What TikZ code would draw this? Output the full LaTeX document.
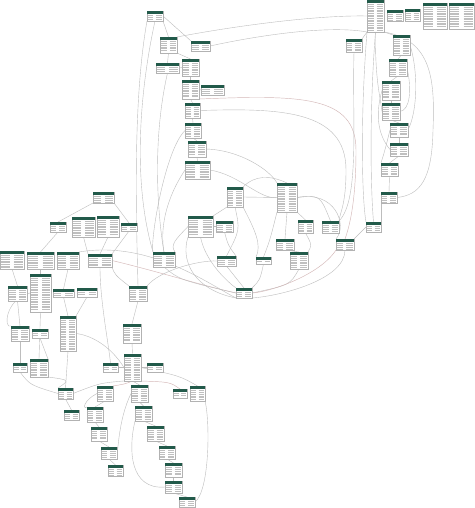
\documentclass[tikz,border=0pt]{standalone}
\definecolor{hdrg}{RGB}{34,90,74}
\pgfdeclarelayer{bgw}
\pgfdeclarelayer{bg}
\pgfsetlayers{bgw,bg,main}
\tikzset{
  tbox/.style={draw=black!30,line width=0.3pt,fill=white,inner sep=0pt,outer sep=0pt,rectangle},
  rowl/.style={draw=black!25,line width=0.35pt},
  cn/.style={draw=black!26,line width=0.4pt},
  cnr/.style={draw=red!40!black!28,line width=0.45pt},
}
\newcommand\tb[5]{%
  \node[tbox,minimum width={(#4-#2)*1pt},minimum height={(#5-#3)*1pt}] (#1) at ({(#2+#4)/2},{(#3+#5)/2}) {};
  \fill[hdrg] (#2,#3) rectangle (#4,#3+2.6);
  \pgfmathtruncatemacro\nrows{(#5-#3-4.2)/1.7}%
  \foreach \k in {1,...,\nrows}{%
    \draw[rowl] (#2+1,#3+2.9+\k*1.7) -- ({#2+0.4*(#4-#2)},#3+2.9+\k*1.7);
    \draw[rowl] ({#2+0.58*(#4-#2)},#3+2.9+\k*1.7) -- (#4-1.5,#3+2.9+\k*1.7);
  }%
}
\begin{document}
\begin{tikzpicture}[x=1pt,y=-1pt]
\useasboundingbox (0,0) rectangle (474,508);
\begin{pgfonlayer}{bgw}
\fill[white] (0,0) rectangle (474,508);
\end{pgfonlayer}
% tables
\tb{T1}{147}{11}{163}{21}
\tb{T2}{160}{37}{177}{53}
\tb{T3}{191}{41}{210}{51}
\tb{T4}{156}{63}{179}{73}
\tb{T5}{182}{59}{199}{76}
\tb{T6}{182}{80}{199}{99}
\tb{T7}{201}{85}{224}{95}
\tb{T8}{185}{103}{200}{118}
\tb{T9}{185}{123}{201}{138}
\tb{T10}{188}{141}{206}{157}
\tb{T11}{185}{161}{210}{179}
\tb{T12}{227}{187}{243}{207}
\tb{T13}{277}{183}{297}{212}
\tb{T14}{188}{216}{213}{237}
\tb{T15}{216}{221}{233}{232}
\tb{T16}{298}{220}{313}{233}
\tb{T17}{276}{239}{294}{250}
\tb{T18}{290}{252}{308}{269}
\tb{T19}{153}{252}{175}{267}
\tb{T20}{217}{256}{236}{266}
\tb{T21}{256}{257}{271}{264}
\tb{T22}{236}{288}{252}{298}
\tb{T23}{147}{363}{163}{372}
\tb{T24}{173}{389}{187}{398}
\tb{T25}{190}{386}{205}{401}
\tb{T26}{147}{426}{164}{441}
\tb{T27}{159}{446}{175}{459}
\tb{T28}{165}{463}{182}{477}
\tb{T29}{165}{481}{182}{493}
\tb{T30}{179}{497}{195}{507}
\tb{T31}{0}{251}{24}{269}
\tb{T32}{27}{252}{54}{269}
\tb{T33}{57}{252}{79}{269}
\tb{T34}{88}{254}{112}{267}
\tb{T35}{30}{274}{51}{312}
\tb{T36}{8}{286}{27}{301}
\tb{T37}{53}{289}{74}{297}
\tb{T38}{77}{288}{97}{297}
\tb{T39}{129}{286}{147}{301}
\tb{T40}{60}{316}{76}{351}
\tb{T41}{11}{326}{29}{341}
\tb{T42}{32}{329}{48}{338}
\tb{T43}{123}{324}{141}{343}
\tb{T44}{13}{363}{27}{372}
\tb{T45}{30}{359}{48}{377}
\tb{T46}{103}{363}{118}{372}
\tb{T47}{124}{354}{141}{381}
\tb{T48}{58}{388}{73}{399}
\tb{T49}{97}{386}{113}{401}
\tb{T50}{131}{385}{148}{402}
\tb{T51}{64}{410}{79}{420}
\tb{T52}{87}{407}{103}{422}
\tb{T53}{135}{406}{152}{421}
\tb{T54}{91}{427}{107}{441}
\tb{T55}{101}{447}{117}{459}
\tb{T56}{108}{465}{123}{476}
\tb{T57}{93}{192}{114}{203}
\tb{T58}{50}{222}{66}{232}
\tb{T59}{72}{217}{95}{237}
\tb{T60}{97}{216}{119}{237}
\tb{T61}{121}{223}{137}{231}
\tb{T62}{367}{0}{384}{32}
\tb{T63}{387}{10}{403}{21}
\tb{T64}{405}{9}{420}{21}
\tb{T65}{423}{3}{447}{29}
\tb{T66}{449}{3}{474}{29}
\tb{T67}{346}{39}{362}{52}
\tb{T68}{393}{35}{410}{55}
\tb{T69}{389}{59}{407}{76}
\tb{T70}{382}{81}{400}{100}
\tb{T71}{382}{103}{400}{120}
\tb{T72}{390}{123}{408}{137}
\tb{T73}{390}{143}{408}{156}
\tb{T74}{381}{163}{398}{176}
\tb{T75}{381}{192}{397}{203}
\tb{T76}{366}{222}{381}{232}
\tb{T77}{322}{221}{339}{233}
\tb{T78}{336}{239}{354}{250}
% connectors
\begin{pgfonlayer}{bg}
\draw[cn] (T1.south) .. controls (140,90) and (132,180) .. (T19.north west);
\draw[cn] (T1.south west) .. controls (133,100) and (136,210) .. (T39.north);
\draw[cn] (T1.east) -- (T3.north west);
\draw[cn] (T1.south east) -- (T2.north);
\draw[cn] (T2.north east) .. controls (240,25) and (320,15) .. (T62.west);
\draw[cn] (T3.east) .. controls (260,35) and (330,25) .. (T62.south west);
\draw[cn] (T2.south) -- (T4.north);
\draw[cn] (T2.south east) -- (T5.north);
\draw[cn] (T4.east) -- (T5.west);
\draw[cn] (T5.south) -- (T6.north);
\draw[cn] (T6.south) -- (T8.north);
\draw[cn] (T8.south) -- (T9.north);
\draw[cn] (T9.south) -- (T10.north);
\draw[cn] (T10.south) -- (T11.north);
\draw[cn] (T6.east) -- (T7.west);
\draw[cnr] (T6.south east) .. controls (300,95) and (356,95) .. (356,150) .. controls (356,200) and (350,225) .. (T78.north);
\draw[cn] (T8.east) .. controls (280,108) and (346,110) .. (346,170) .. controls (346,205) and (340,212) .. (T77.north east);
\draw[cn] (T10.east) .. controls (240,150) and (270,170) .. (T13.north west);
\draw[cn] (T11.east) .. controls (240,175) and (260,200) .. (T13.west);
\draw[cn] (T12.east) -- (T13.west);
\draw[cn] (T12.south west) -- (T14.north east);
\draw[cn] (T14.east) -- (T15.west);
\draw[cn] (T13.south) -- (T17.north);
\draw[cn] (T13.south east) -- (T16.north);
\draw[cn] (T13.east) .. controls (320,195) .. (T77.north);
\draw[cn] (T13.east) .. controls (335,190) and (348,225) .. (T78.north west);
\draw[cn] (T17.south) -- (T18.north);
\draw[cn] (T20.south) -- (T22.north);
\draw[cn] (T21.south) .. controls (260,280) .. (T22.north east);
\draw[cn] (T18.south) .. controls (290,285) .. (T22.east);
\draw[cnr] (T78.south west) .. controls (320,275) and (270,292) .. (T22.east);
\draw[cn] (T78.south) .. controls (345,280) and (280,296) .. (T22.south east);
\draw[cn] (T14.south) .. controls (205,260) and (225,280) .. (T22.north west);
\draw[cnr] (T34.east) .. controls (160,272) and (200,285) .. (T22.west);
\draw[cn] (T33.north east) .. controls (150,240) and (210,285) .. (T22.south west);
\draw[cn] (T19.south) .. controls (180,280) .. (T22.west);
\draw[cn] (T12.south) .. controls (240,230) .. (T20.north);
\draw[cn] (T13.south west) .. controls (270,240) .. (T21.north);
\draw[cn] (T12.south east) .. controls (255,230) and (262,245) .. (T21.north west);
\draw[cn] (T11.west) .. controls (165,200) and (160,230) .. (T19.north);
\draw[cn] (T9.west) .. controls (165,150) and (150,240) .. (T19.north west);
\draw[cn] (T4.south) .. controls (150,150) and (160,230) .. (T19.north);
\draw[cn] (T14.west) .. controls (175,240) and (170,245) .. (T19.north east);
\draw[cn] (T14.south west) .. controls (180,262) and (195,290) .. (T22.south west);
\draw[cn] (T15.south) .. controls (228,245) .. (T20.north east);
\draw[cn] (T12.north east) .. controls (255,175) and (270,175) .. (T13.north);
\draw[cn] (T16.south) .. controls (312,245) .. (T18.north east);
% left group
\draw[cn] (T57.south west) -- (T58.north);
\draw[cn] (T57.south east) -- (T61.north);
\draw[cn] (T58.south) -- (T32.north);
\draw[cn] (T59.south) -- (T34.north west);
\draw[cn] (T60.south) -- (T34.north);
\draw[cn] (T61.south) -- (T34.north east);
\draw[cn] (T32.south) -- (T35.north);
\draw[cn] (T31.south) -- (T36.north);
\draw[cn] (T33.south) -- (T37.north);
\draw[cn] (T37.south) -- (T40.north);
\draw[cn] (T38.south) -- (T40.north east);
\draw[cn] (T36.south) -- (T41.north);
\draw[cn] (T41.south) -- (T44.north);
\draw[cn] (T35.south) -- (T45.north);
\draw[cn] (T42.south) -- (T45.north east);
\draw[cn] (T44.south) .. controls (30,385) .. (T48.west);
\draw[cn] (T45.south east) .. controls (70,380) .. (T48.north west);
\draw[cn] (T40.south) -- (T48.north);
\draw[cn] (T40.east) .. controls (90,335) and (110,345) .. (T47.west);
\draw[cn] (T34.south) .. controls (100,300) and (108,340) .. (T46.north);
\draw[cn] (T34.south east) .. controls (115,275) .. (T39.north west);
\draw[cn] (T39.south) -- (T43.north);
\draw[cn] (T43.south) -- (T47.north);
\draw[cn] (T46.east) -- (T47.west);
\draw[cn] (T23.west) -- (T47.east);
\draw[cnr] (T47.south) .. controls (125,384) .. (T49.north east);
\draw[cn] (T47.south) -- (T50.north);
\draw[cn] (T48.east) .. controls (100,383) .. (T47.south west);
\draw[cnr] (T24.north) .. controls (170,382) .. (T47.south east);
\draw[cn] (T25.north) .. controls (180,376) .. (T47.east);
\draw[cn] (T49.south) -- (T52.north);
\draw[cn] (T52.south) -- (T54.north);
\draw[cn] (T54.south) -- (T55.north);
\draw[cn] (T55.south) -- (T56.north);
\draw[cn] (T50.south) -- (T53.north);
\draw[cn] (T53.south) -- (T26.north);
\draw[cn] (T26.south) -- (T27.north);
\draw[cn] (T27.south) -- (T28.north);
\draw[cn] (T28.south) -- (T29.north);
\draw[cn] (T29.south) -- (T30.north);
\draw[cn] (T25.south east) .. controls (210,420) and (210,490) .. (T30.east);
\draw[cn] (T48.south) -- (T51.north);
\draw[cn] (T53.south west) .. controls (128,450) and (130,490) .. (T29.west);
\draw[cn] (T49.west) .. controls (84,400) and (82,410) .. (T52.north west);
\draw[cn] (T50.west) .. controls (118,420) and (118,455) .. (T55.east);
\draw[cn] (T35.west) .. controls (4,300) and (4,330) .. (T41.north west);
\draw[cn] (T39.north east) .. controls (160,270) and (200,260) .. (T20.west);
% right column
\draw[cn] (T62.south west) .. controls (365,36) .. (T67.north east);
\draw[cn] (T62.south east) .. controls (388,34) .. (T68.north west);
\draw[cn] (T68.south) -- (T69.north);
\draw[cn] (T69.south) -- (T70.north);
\draw[cn] (T70.south) -- (T71.north);
\draw[cn] (T71.south) -- (T72.north);
\draw[cn] (T72.south) -- (T73.north);
\draw[cn] (T73.south) -- (T74.north);
\draw[cn] (T74.south) -- (T75.north);
\draw[cn] (T75.south west) -- (T76.north east);
\draw[cn] (T62.south east) .. controls (432,40) and (435,80) .. (433,130) .. controls (432,180) and (420,195) .. (T75.east);
\draw[cn] (T62.south) .. controls (370,100) and (370,180) .. (T76.north);
\draw[cn] (T62.south) .. controls (375,80) and (380,95) .. (T71.west);
\draw[cn] (T68.east) .. controls (418,70) and (418,110) .. (T72.east);
\draw[cn] (T69.east) .. controls (412,90) and (410,110) .. (T71.east);
\draw[cn] (T70.west) .. controls (375,115) and (378,135) .. (T73.west);
\draw[cn] (T72.west) .. controls (385,150) .. (T74.north west);
\draw[cn] (T76.west) -- (T78.north east);
\draw[cn] (T62.south west) .. controls (360,120) and (362,200) .. (T76.north west);
\draw[cn] (T67.south) .. controls (352,120) and (360,200) .. (T77.north east);
\end{pgfonlayer}
\end{tikzpicture}
\end{document}
